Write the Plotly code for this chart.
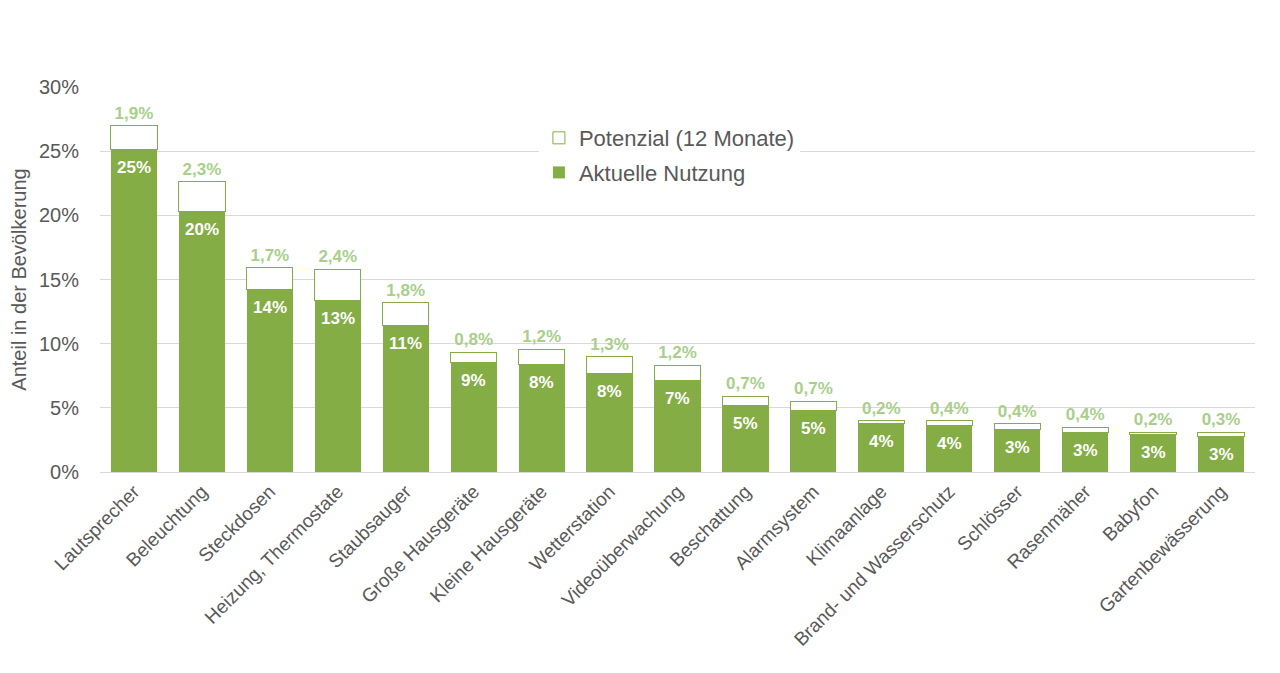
import plotly.graph_objects as go

categories = ["Lautsprecher", "Beleuchtung", "Steckdosen", "Heizung, Thermostate", "Staubsauger",
              "Große Hausgeräte", "Kleine Hausgeräte", "Wetterstation", "Videoüberwachung",
              "Beschattung", "Alarmsystem", "Klimaanlage", "Brand- und Wasserschutz",
              "Schlösser", "Rasenmäher", "Babyfon", "Gartenbewässerung"]
aktuell = [25.1, 20.3, 14.2, 13.4, 11.4, 8.55, 8.35, 7.7, 7.1, 5.2, 4.8, 3.8, 3.6, 3.35, 3.1, 2.9, 2.8]
potenzial = [1.9, 2.3, 1.7, 2.4, 1.8, 0.8, 1.2, 1.3, 1.2, 0.7, 0.7, 0.2, 0.4, 0.4, 0.4, 0.2, 0.3]
yticks = [0, 5, 10, 15, 20, 25, 30]

green = "#84AD46"
light = "#A9CF8A"
gray = "#595959"

fig = go.Figure()
fig.add_trace(go.Bar(
    x=categories, y=aktuell, name="Aktuelle Nutzung", legendgroup="a", legendrank=2,
    marker=dict(color=green, line=dict(width=0)),
))
fig.add_trace(go.Bar(
    x=categories, y=potenzial, name="Potenzial (12 Monate)", legendgroup="b", legendrank=1,
    marker=dict(color="white", line=dict(color=green, width=1)),
    text=[f"{v:.1f}%".replace(".", ",") for v in potenzial], textposition="outside",
    textangle=0, cliponaxis=False,
    textfont=dict(family="Liberation Sans", size=17, color=light, weight="bold"),
))

for c, v in zip(categories, aktuell):
    fig.add_annotation(x=c, y=v, text=f"<b>{round(v)}%</b>", showarrow=False,
                       yanchor="middle", yshift=-18,
                       font=dict(family="Liberation Sans", size=17, color="white"))

fig.update_layout(
    barmode="stack", bargap=0.32,
    width=1280, height=673,
    margin=dict(l=100, r=25, t=87, b=201),
    paper_bgcolor="white", plot_bgcolor="white",
    font=dict(family="Liberation Sans", color=gray),
    legend=dict(x=0.38, y=0.922, xanchor="left", yanchor="top", traceorder="grouped",
                bgcolor="white", font=dict(size=22, color=gray), itemwidth=30,
                tracegroupgap=3),
    showlegend=True,
)
fig.update_yaxes(range=[0, 30], tickvals=yticks, ticktext=[f"{v}%" for v in yticks],
                 showgrid=True, gridcolor="#D9D9D9", gridwidth=1, zeroline=False,
                 showline=False, tickfont=dict(size=20, color=gray), ticks="",
                 ticklabelstandoff=20,
                 title=dict(text="Anteil in der Bevölkerung", font=dict(size=20, color=gray), standoff=6))
fig.update_xaxes(tickangle=-45, tickfont=dict(size=19, color=gray), showline=True,
                 linecolor="#D9D9D9", linewidth=1, ticks="")

fig.write_html("out.html")
